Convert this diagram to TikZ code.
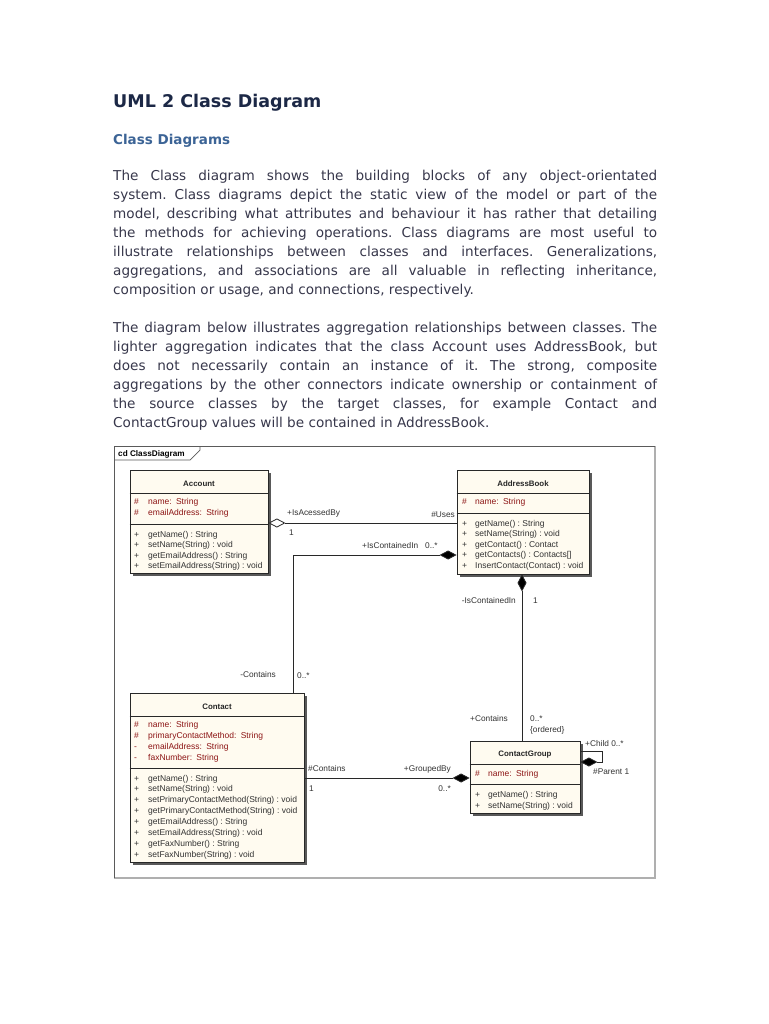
\documentclass[tikz,border=0pt]{standalone}
\usepackage{fontspec}
\setmainfont{DejaVu Sans}
\newfontfamily\diagfont{Liberation Sans}
\usetikzlibrary{arrows.meta,shadows,calc}
\definecolor{titlec}{RGB}{28,40,70}
\definecolor{subc}{RGB}{60,100,150}
\definecolor{bodyc}{RGB}{55,55,75}
\definecolor{boxfill}{RGB}{255,251,240}
\definecolor{attrc}{RGB}{140,20,20}
\definecolor{methc}{RGB}{50,50,50}
\definecolor{framedark}{RGB}{90,90,90}
\definecolor{framelight}{RGB}{175,175,175}
\definecolor{linec}{RGB}{40,40,40}
\frenchspacing
\begin{document}
\begin{tikzpicture}[x=1pt,y=-1pt,
 bodyline/.style={anchor=base west, inner sep=0, text=bodyc, font=\fontsize{13.6}{16}\selectfont},
 classbox/.style={draw=linec, line width=0.8pt, fill=boxfill, inner sep=0,
   drop shadow={shadow xshift=2.5pt, shadow yshift=-2.5pt, fill=black!65, opacity=1}},
 cname/.style={anchor=base, inner sep=0, font=\diagfont\bfseries\fontsize{7.9}{9}\selectfont, text=black!85},
 attr/.style={anchor=base west, inner sep=0, font=\diagfont\fontsize{8.5}{9}\selectfont, text=attrc},
 meth/.style={anchor=base west, inner sep=0, font=\diagfont\fontsize{8.5}{9}\selectfont, text=methc},
 lblw/.style={anchor=base west, inner sep=0, font=\diagfont\fontsize{8.3}{9}\selectfont, text=black!80},
 lble/.style={anchor=base east, inner sep=0, font=\diagfont\fontsize{8.3}{9}\selectfont, text=black!80},
 sep/.style={draw=linec, line width=0.6pt},
 conn/.style={draw=linec, line width=0.8pt},
 compo/.style={conn, -{Diamond[length=17pt,width=9pt,fill=black]}},
 aggro/.style={conn, -{Diamond[open,length=17pt,width=9pt,fill=white]}},
]
\useasboundingbox[fill=white] (0,0) rectangle (768,1024);

% ---------- header text ----------
\node[anchor=base west, inner sep=0, text=titlec, font=\bfseries\fontsize{17.5}{20}\selectfont] (title) at (113,107.5) {UML 2 Class Diagram};
\node[anchor=base west, inner sep=0, text=subc, font=\bfseries\fontsize{13.5}{16}\selectfont] (sub) at (113,144.5) {Class Diagrams};

\node[bodyline] (p1a) at (113,181.0) {\makebox[544pt][s]{The Class diagram shows the building blocks of any object-orientated}};
\node[bodyline] (p1b) at (113,199.9) {\makebox[544pt][s]{system. Class diagrams depict the static view of the model or part of the}};
\node[bodyline] (p1c) at (113,218.8) {\makebox[544pt][s]{model, describing what attributes and behaviour it has rather that detailing}};
\node[bodyline] (p1d) at (113,237.7) {\makebox[544pt][s]{the methods for achieving operations. Class diagrams are most useful to}};
\node[bodyline] (p1e) at (113,256.6) {\makebox[544pt][s]{illustrate relationships between classes and interfaces. Generalizations,}};
\node[bodyline] (p1f) at (113,275.5) {\makebox[544pt][s]{aggregations, and associations are all valuable in reflecting inheritance,}};
\node[bodyline] (p1g) at (113,294.4) {composition or usage, and connections, respectively.};

\node[bodyline] (p2a) at (113,332.5) {\makebox[544pt][s]{The diagram below illustrates aggregation relationships between classes. The}};
\node[bodyline] (p2b) at (113,351.4) {\makebox[544pt][s]{lighter aggregation indicates that the class Account uses AddressBook, but}};
\node[bodyline] (p2c) at (113,370.3) {\makebox[544pt][s]{does not necessarily contain an instance of it. The strong, composite}};
\node[bodyline] (p2d) at (113,389.2) {\makebox[544pt][s]{aggregations by the other connectors indicate ownership or containment of}};
\node[bodyline] (p2e) at (113,408.1) {\makebox[544pt][s]{the source classes by the target classes, for example Contact and}};
\node[bodyline] (p2f) at (113,427.0) {ContactGroup values will be contained in AddressBook.};

% ---------- diagram frame ----------
\draw[framelight, line width=2pt] (655,446) -- (655,878) -- (114,878);
\draw[framedark, line width=0.8pt] (114,878) -- (114,446) -- (655,446);
\draw[framedark, line width=0.7pt] (114,460) -- (190,460) -- (200,450) -- (200,446);
\node[anchor=base west, inner sep=0, font=\diagfont\bfseries\fontsize{8.2}{9}\selectfont] (tab) at (118,456.5) {cd ClassDiagram};

% ---------- class boxes ----------
\node[classbox, minimum width=138pt, minimum height=103pt] (account) at (199,521.5) {};
\node[classbox, minimum width=132pt, minimum height=104pt] (addr) at (523,522) {};
\node[classbox, minimum width=174pt, minimum height=169pt] (contact) at (217,777.5) {};
\node[classbox, minimum width=110pt, minimum height=72pt] (group) at (525,777) {};

% separators
\draw[sep] (account.west |- 0,493) -- (account.east |- 0,493);
\draw[sep] (account.west |- 0,524) -- (account.east |- 0,524);
\draw[sep] (addr.west |- 0,493) -- (addr.east |- 0,493);
\draw[sep] (addr.west |- 0,513) -- (addr.east |- 0,513);
\draw[sep] (contact.west |- 0,716) -- (contact.east |- 0,716);
\draw[sep] (contact.west |- 0,768) -- (contact.east |- 0,768);
\draw[sep] (group.west |- 0,764) -- (group.east |- 0,764);
\draw[sep] (group.west |- 0,784) -- (group.east |- 0,784);

% Account
\node[cname] (accountN) at (199,486) {Account};
\node[attr] (aas1) at (134,504.5) {\#};
\node[attr] (aat1) at (148,504.5) {name:\enspace String};
\node[attr] (aas2) at (134,515) {\#};
\node[attr] (aat2) at (148,515) {emailAddress:\enspace String};
\foreach \t [count=\i] in {getName() : String, setName(String) : void, getEmailAddress() : String, setEmailAddress(String) : void}{
  \node[meth] (acp\i) at (134,526.5+10.5*\i) {+};
  \node[meth] (acm\i) at (148,526.5+10.5*\i) {\t};
}

% AddressBook
\node[cname] (addrN) at (523,486) {AddressBook};
\node[attr] (abs1) at (462,504.5) {\#};
\node[attr] (abt1) at (475,504.5) {name:\enspace String};
\foreach \t [count=\i] in {getName() : String, setName(String) : void, getContact() : Contact, getContacts() : Contacts[], InsertContact(Contact) : void}{
  \node[meth] (abp\i) at (462,515.5+10.5*\i) {+};
  \node[meth] (abm\i) at (475,515.5+10.5*\i) {\t};
}

% Contact
\node[cname] (contactN) at (217,709) {Contact};
\foreach \s/\t [count=\i] in {{\#}/{name:\enspace String}, {\#}/{primaryContactMethod:\enspace String}, {-}/{emailAddress:\enspace String}, {-}/{faxNumber:\enspace String}}{
  \node[attr] (cas\i) at (134,716+11*\i) {\s};
  \node[attr] (cat\i) at (148,716+11*\i) {\t};
}
\foreach \t [count=\i] in {getName() : String, setName(String) : void, setPrimaryContactMethod(String) : void, getPrimaryContactMethod(String) : void, getEmailAddress() : String, setEmailAddress(String) : void, getFaxNumber() : String, setFaxNumber(String) : void}{
  \node[meth] (ccp\i) at (134,770.2+10.85*\i) {+};
  \node[meth] (ccm\i) at (148,770.2+10.85*\i) {\t};
}

% ContactGroup
\node[cname] (groupN) at (525,756) {ContactGroup};
\node[attr] (gas1) at (475,776) {\#};
\node[attr] (gat1) at (488,776) {name:\enspace String};
\foreach \t [count=\i] in {getName() : String, setName(String) : void}{
  \node[meth] (gcp\i) at (475,786+11*\i) {+};
  \node[meth] (gcm\i) at (488,786+11*\i) {\t};
}

% ---------- connectors ----------
\coordinate (j1) at (0,523);
\coordinate (j2) at (293,555);
\coordinate (j3) at (522,0);
\coordinate (j4) at (0,778);
\coordinate (j5a) at (602,751);
\coordinate (j5b) at (602,762);

\draw[aggro] (addr.west |- j1) -- (account.east |- j1);
\draw[compo] (contact.north -| j2) -- (j2) -- (addr.west |- j2);
\draw[compo] (group.north -| j3) -- (addr.south -| j3);
\draw[compo] (contact.east |- j4) -- (group.west |- j4);
\draw[compo] (group.east |- j5a) -- (j5a) -- (j5b) -- (group.east |- j5b);

% ---------- connector labels ----------
\node[lblw] (l1) at (287,515) {+IsAcessedBy};
\node[lblw] (l2) at (289,535) {1};
\node[lble] (l3) at (455,517) {\#Uses};
\node[lblw] (l4) at (362,548) {+IsContainedIn};
\node[lblw] (l5) at (425,548) {0..*};
\node[lble] (l6) at (276,677) {-Contains};
\node[lblw] (l7) at (297,678) {0..*};
\node[lble] (l8) at (516,603) {-IsContainedIn};
\node[lblw] (l9) at (533,603) {1};
\node[lble] (l10) at (508,721) {+Contains};
\node[lblw] (l11) at (530,721) {0..*};
\node[lblw] (l12) at (530,732) {\{ordered\}};
\node[lblw] (l13) at (308,771) {\#Contains};
\node[lblw] (l14) at (309,791) {1};
\node[lble] (l15) at (451,771) {+GroupedBy};
\node[lble] (l16) at (451,791) {0..*};
\node[lblw] (l17) at (585,746) {+Child 0..*};
\node[lblw] (l18) at (593,774) {\#Parent 1};
\end{tikzpicture}
\end{document}
